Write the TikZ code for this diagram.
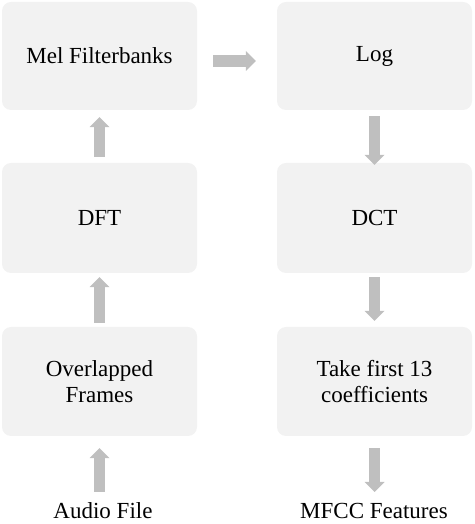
\documentclass[tikz,border=0pt]{standalone}
\usepackage{fontspec}
\setmainfont{Liberation Serif}
\usetikzlibrary{arrows.meta,calc}
\definecolor{boxgray}{HTML}{F2F2F2}
\definecolor{arrgray}{HTML}{BFBFBF}
\begin{document}
\begin{tikzpicture}[x=1pt,y=1pt,
  procbox/.style={fill=boxgray, draw=none, rounded corners=9pt, minimum width=195pt, minimum height=108pt, align=center, inner sep=0pt, font=\fontsize{23}{26}\selectfont},
  plaintext/.style={font=\fontsize{23}{26}\selectfont, inner sep=0pt, anchor=base},
  barrow/.style={draw=arrgray, line width=11.5pt, -{Triangle[length=10pt, width=20pt, line width=0pt]}}]
\useasboundingbox (0,0) rectangle (474,524);
% left column
\node[procbox] (mel) at (99.5,468) {Mel Filterbanks};
\node[procbox, minimum height=110pt] (dft) at (99.5,306) {DFT};
\node[procbox, minimum height=109pt] (ovl) at (99.5,142.5) {Overlapped\\Frames};
\node[plaintext] (audio) at (103,5.5) {Audio File};
% right column
\node[procbox] (log) at (374.5,468) {Log};
\node[procbox, minimum height=110pt] (dct) at (374.5,306) {DCT};
\node[procbox, minimum height=109pt] (take) at (374.5,142.5) {Take first 13\\coefficients};
\node[plaintext] (mfcc) at (374,5.5) {MFCC Features};
% arrows
\draw[barrow] ($(ovl.north)+(0,4)$) -- ($(dft.south)+(0,-4)$);
\draw[barrow] ($(dft.north)+(0,6)$) -- ($(mel.south)+(0,-7)$);
\draw[barrow] (99.5,32) coordinate (a1) -- ($(ovl.south)+(0,-12)$);
\draw[barrow] ($(mel.east)+(16,-5)$) -- ($(log.west)+(-21,-5)$);
\draw[barrow] ($(log.south)+(0,-6)$) -- ($(dct.north)+(0,-2)$);
\draw[barrow] ($(dct.south)+(0,-4)$) -- ($(take.north)+(0,6)$);
\draw[barrow] ($(take.south)+(0,-12)$) -- (374.5,32) coordinate (a2);
\end{tikzpicture}
\end{document}
